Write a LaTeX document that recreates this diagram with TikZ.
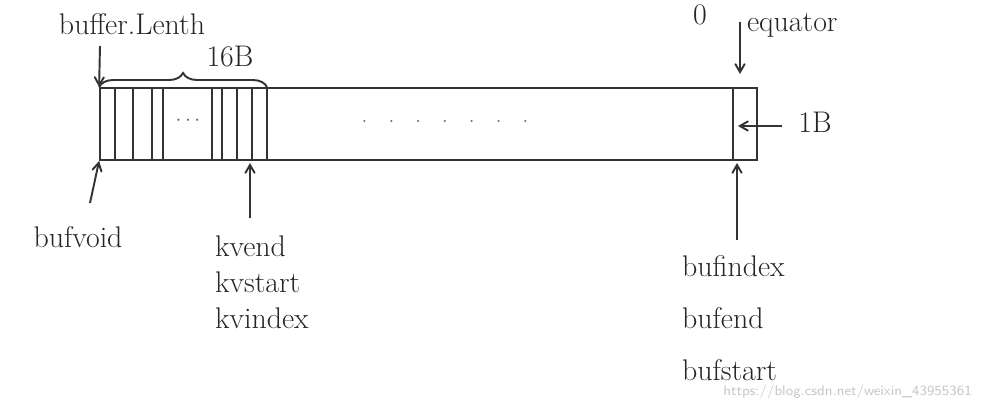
\documentclass[tikz,border=0pt]{standalone}
\usepackage{tikz}
\usepackage{xcolor}
\usetikzlibrary{arrows}
\usetikzlibrary{calc}
\usetikzlibrary{decorations.pathreplacing}
\usetikzlibrary{positioning}

\begin{document}
\begin{tikzpicture}
  [
    x = 0.02cm, y = -0.02cm,
    ink/.style = {draw = black!80, line width = 1.1pt},
    buffer/.style = {ink, rectangle, minimum width = 13.14cm,
                     minimum height = 1.44cm, inner sep = 0pt},
    label/.style = {font = \fontsize{17}{20}\selectfont, text = black!85,
                    inner sep = 1pt, text height = 1.5ex, text depth = 0.3ex},
    dots/.style = {font = \large, text = black!60},
    cell/.style = {ink},
    brace/.style = {ink, decorate, decoration = {brace, amplitude = 8pt}},
    arrow/.style  = {> = angle 60, ink},
    arrow-out/.style = {arrow, ->},
  ]
  \useasboundingbox (0,0) rectangle (987,412);

  % the buffer
  \node[buffer] (buf) at (428.5,124) {};
  \foreach \x in {115,133,152,163,212,222,237,252,267}
    \draw[cell] (\x,0 |- buf.north) -- (\x,0 |- buf.south);
  \draw[cell] (733,0 |- buf.north) -- (733,0 |- buf.south);
  \node[dots] (celldots) at (188,121) {$\cdots$};
  \node[dots] (middots) at (445,121) {.\quad.\quad.\quad.\quad.\quad.\quad.};

  % top labels
  \draw[brace] (buf.north west) -- (267,0 |- buf.north);
  \node[label] (size16) at (230,62) {16B};
  \node[label] (lenlbl) at (132,30) {buffer.Lenth};
  \coordinate (lentail) at (100,46);
  \draw[arrow-out] (lentail) -- (buf.north west);

  \node[label] (zero) at (700,20) {0};
  \node[label, anchor = west] (eqlbl) at (745,27) {equator};
  \coordinate (eqtail) at (740,22);
  \coordinate (eqhead) at (740,74);
  \draw[arrow-out] (eqtail) -- (eqhead);

  \node[label] (size1) at (815,128) {1B};
  \coordinate (onetail) at (782,126);
  \coordinate (onehead) at (738,126);
  \draw[arrow-out] (onetail) -- (onehead);

  % bottom labels
  \node[label] (voidlbl) at (78,243) {bufvoid};
  \coordinate (voidtail) at (90,203);
  \draw[arrow-out] (voidtail) -- (buf.south west);

  \node[label, anchor = west] (kvend) at (213,252) {kvend};
  \node[label, below = 0.36cm of kvend.south west, anchor = north west] (kvstart) {kvstart};
  \node[label, below = 0.36cm of kvstart.south west, anchor = north west] (kvindex) {kvindex};
  \coordinate (kvtail) at (250,218);
  \coordinate (kvhead) at (250,163);
  \draw[arrow-out] (kvtail) -- (kvhead);

  \node[label, anchor = west] (bufindex) at (680,272) {bufindex};
  \node[label, below = 0.68cm of bufindex.south west, anchor = north west] (bufend) {bufend};
  \node[label, below = 0.68cm of bufend.south west, anchor = north west] (bufstart) {bufstart};
  \coordinate (buftail) at (737,240);
  \coordinate (bufhead) at (737,163);
  \draw[arrow-out] (buftail) -- (bufhead);

  \node[font = \footnotesize\sffamily, text = black!22, anchor = east] (wmark) at (978,392)
      {https://blog.csdn.net/weixin\_43955361};
\end{tikzpicture}
\end{document}
